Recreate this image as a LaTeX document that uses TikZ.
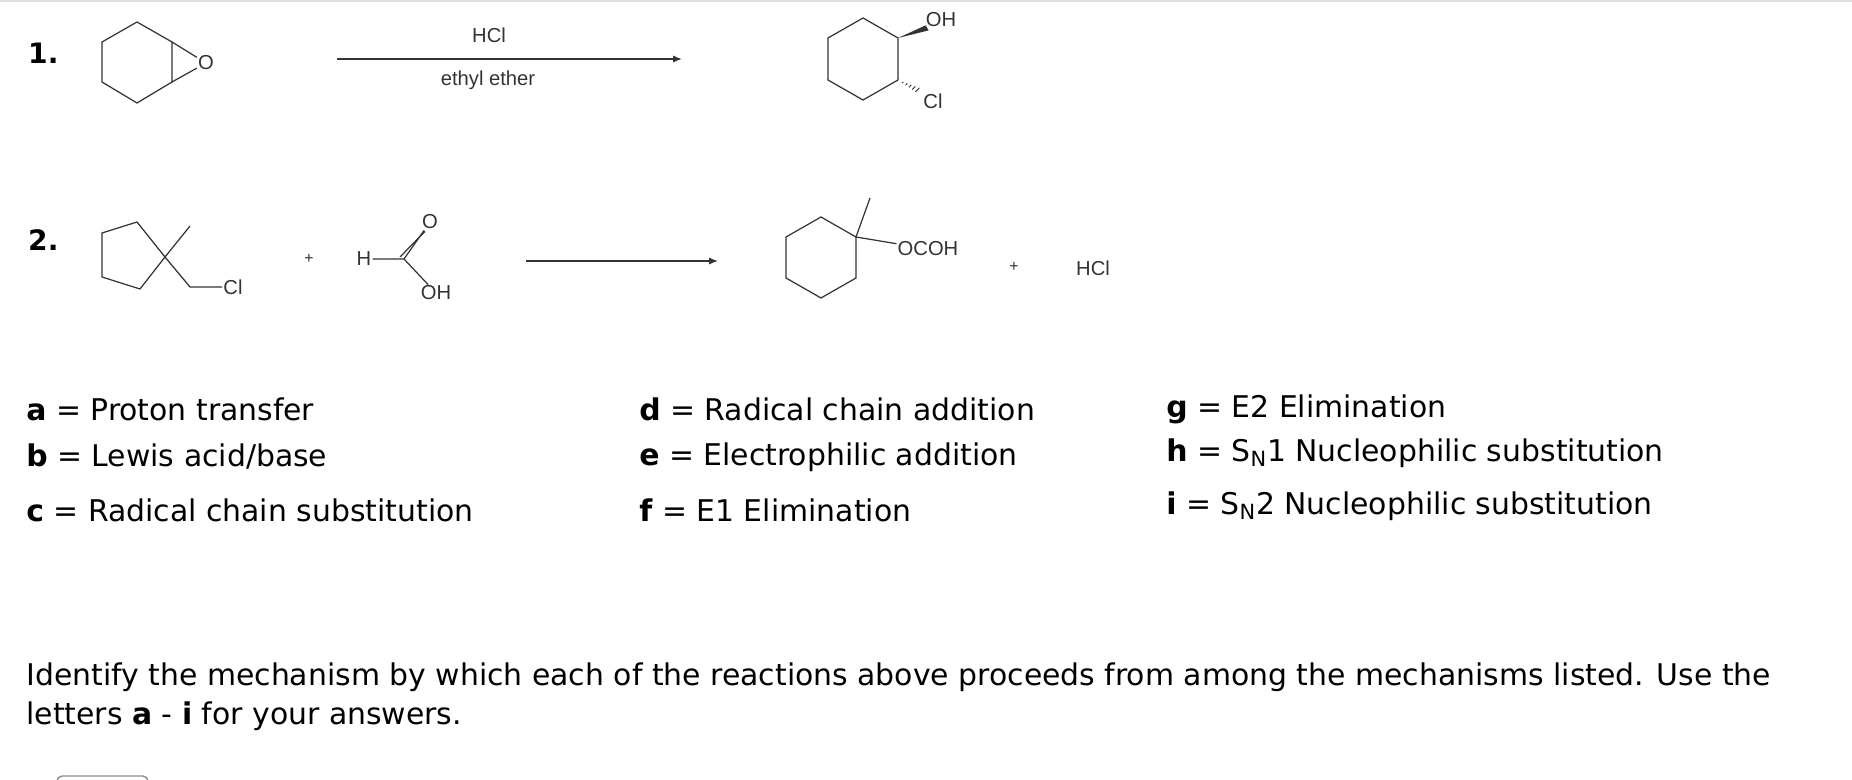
\documentclass[tikz,border=0pt]{standalone}
\usepackage{fontspec}
\setmainfont{DejaVu Sans}
\newfontfamily\chemfont{Liberation Sans}
\usetikzlibrary{positioning, arrows.meta, calc}
\definecolor{bondcolor}{HTML}{333333}

\begin{document}
\begin{tikzpicture}[x=0.02cm, y=-0.02cm,
    % Styles
    bond/.style={line width=0.7pt, bondcolor},
    rxnarrow/.style={-{Latex[length=5pt,width=4pt]}, line width=0.8pt, bondcolor},
    atom/.style={inner sep=0.5pt, font=\chemfont\fontsize{11.5}{13}\selectfont, text=bondcolor},
    reagent/.style={font=\chemfont\fontsize{11.5}{13}\selectfont, text=bondcolor},
    plus/.style={font=\chemfont\fontsize{9}{10}\selectfont, text=bondcolor},
    numlabel/.style={anchor=west, font=\rmfamily\bfseries\fontsize{16}{18}\selectfont},
    choice/.style={anchor=west, inner sep=0pt, font=\fontsize{17}{20}\selectfont},
    prompt/.style={anchor=west, inner sep=0pt, font=\fontsize{17}{20}\selectfont}
]
\useasboundingbox (0,0) rectangle (1852,780);
\draw[black!12, line width=2pt] (0,0) -- (1852,0);

% ============ REACTION 1 ============
\node[numlabel] (n1) at (22,53) {1.};
% epoxide
\coordinate (e1) at (137,22); \coordinate (e2) at (172,42);
\coordinate (e3) at (172,82); \coordinate (e4) at (137,103);
\coordinate (e5) at (102,82); \coordinate (e6) at (102,42);
\node[atom] (eo) at (206,63) {O};
\draw[bond] (e1) -- (e2) -- (e3) -- (e4) -- (e5) -- (e6) -- cycle;
\draw[bond] (e2) -- (eo);
\draw[bond] (e3) -- (eo);

\coordinate (a1s) at (337,59); \coordinate (a1e) at (682,59);
\draw[rxnarrow] (a1s) -- (a1e);
\node[reagent] (hcl1) at (489,35) {HCl};
\node[reagent] (ether) at (488,80) {ethyl ether};

% chlorohydrin
\coordinate (p1) at (863,18); \coordinate (p2) at (898,38);
\coordinate (p3) at (898,80); \coordinate (p4) at (863,100);
\coordinate (p5) at (828,80); \coordinate (p6) at (828,38);
\draw[bond] (p1) -- (p2) -- (p3) -- (p4) -- (p5) -- (p6) -- cycle;
\node[atom] (poh) at (941,20) {OH};
\node[atom] (pcl) at (933,101) {Cl};
\fill[bondcolor] (p2) -- ($(poh.south west)+(1,-3)$) -- ($(poh.south west)+(4,2)$) -- cycle;
\foreach \t in {0.2,0.35,...,0.95}
  \draw[bond, line width=0.5pt] ($(p3)!\t!(pcl.north west)+(-2.5*\t,2.5*\t)$) -- ($(p3)!\t!(pcl.north west)+(2.5*\t,-2.5*\t)$);

% ============ REACTION 2 ============
\node[numlabel] (n2) at (22,240) {2.};
% cyclopentane
\coordinate (c1) at (165,257); \coordinate (c2) at (137,222);
\coordinate (c3) at (102,233); \coordinate (c4) at (102,277);
\coordinate (c5) at (140,289);
\coordinate (cme) at (190,226); \coordinate (cch) at (190,287);
\node[atom] (ccl) at (233,287) {Cl};
\draw[bond] (c1) -- (c2) -- (c3) -- (c4) -- (c5) -- cycle;
\draw[bond] (c1) -- (cme);
\draw[bond] (c1) -- (cch) -- (ccl);

\node[plus] (plus1) at (309,259) {+};

% formic acid
\node[atom] (fh) at (364,259) {H};
\coordinate (fc) at (404,259);
\node[atom] (fo) at (430,222) {O};
\node[atom] (foh) at (436,293) {OH};
\draw[bond] (fh) -- (fc) -- (foh);
\draw[bond] (fc) -- (fo);
\draw[bond] ($(fc)+(-4,-2)$) -- ($(fo.south)+(-5,1)$);

\coordinate (a2s) at (526,261); \coordinate (a2e) at (718,261);
\draw[rxnarrow] (a2s) -- (a2e);

% ester product
\coordinate (q1) at (821,217); \coordinate (q2) at (856,237);
\coordinate (q3) at (856,278); \coordinate (q4) at (821,298);
\coordinate (q5) at (786,278); \coordinate (q6) at (786,237);
\coordinate (qme) at (870,198);
\node[atom] (qester) at (928,249) {OCOH};
\draw[bond] (q1) -- (q2) -- (q3) -- (q4) -- (q5) -- (q6) -- cycle;
\draw[bond] (q2) -- (qme);
\draw[bond] (q2) -- (qester);

\node[plus] (plus2) at (1014,267) {+};
\node[reagent] (hcl2) at (1093,268) {HCl};

% ============ MECHANISM LIST ============
\node[choice] (ca) at (26,409) {\textbf{a} = Proton transfer};
\node[choice] (cb) at (26,457) {\textbf{b} = Lewis acid/base};
\node[choice] (cc) at (26,510) {\textbf{c} = Radical chain substitution};
\node[choice] (cd) at (639,409) {\textbf{d} = Radical chain addition};
\node[choice] (ce) at (639,457) {\textbf{e} = Electrophilic addition};
\node[choice] (cf) at (639,510) {\textbf{f} = E1 Elimination};
\node[choice] (cg) at (1166,409) {\textbf{g} = E2 Elimination};
\node[choice] (ch) at (1166,453) {\textbf{h} = S\textsubscript{N}1 Nucleophilic substitution};
\node[choice] (ci) at (1166,506) {\textbf{i} = S\textsubscript{N}2 Nucleophilic substitution};

% ============ QUESTION ============
\node[prompt] (q1txt) at (26,677) {Identify the mechanism by which each of the reactions above proceeds from among the mechanisms listed. Use the};
\node[prompt] (q2txt) at (26,716) {letters \textbf{a} - \textbf{i} for your answers.};
\draw[black!45, line width=0.8pt, rounded corners=3pt] (57,790) -- (57,776) -- (148,776) -- (148,790);

\end{tikzpicture}
\end{document}
